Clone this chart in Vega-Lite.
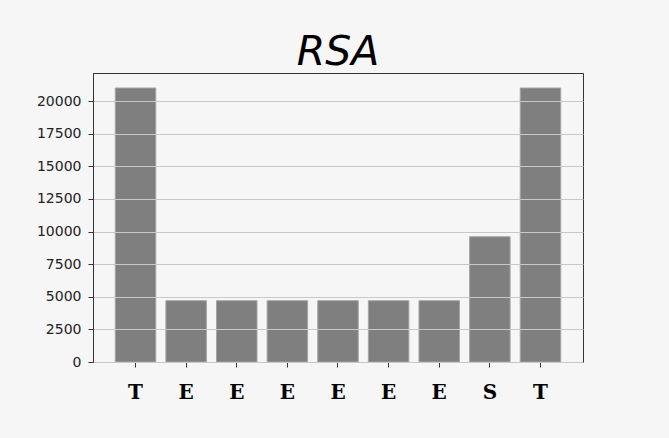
{
  "$schema": "https://vega.github.io/schema/vega-lite/v6.json",
  "autosize": "none",
  "width": 490,
  "height": 289,
  "padding": {"left": 93, "top": 73, "right": 86, "bottom": 76},
  "background": "#f6f6f6",
  "title": {
    "text": "RSA",
    "font": "DejaVu Sans",
    "fontStyle": "italic",
    "fontWeight": "normal",
    "fontSize": 41,
    "color": "#000000",
    "anchor": "middle",
    "offset": -1
  },
  "data": {
    "values": [
      {"slot": "T1", "value": 21000},
      {"slot": "E1", "value": 4700},
      {"slot": "E2", "value": 4700},
      {"slot": "E3", "value": 4700},
      {"slot": "E4", "value": 4700},
      {"slot": "E5", "value": 4700},
      {"slot": "E6", "value": 4700},
      {"slot": "S1", "value": 9600},
      {"slot": "T2", "value": 21000}
    ]
  },
  "mark": {"type": "bar", "color": "#7f7f7f", "stroke": "#a5a5a5", "strokeWidth": 1},
  "encoding": {
    "x": {
      "field": "slot",
      "type": "nominal",
      "sort": null,
      "title": null,
      "scale": {"paddingInner": 0.2, "paddingOuter": 0.44},
      "axis": {
        "labelExpr": "substring(datum.label, 0, 1)",
        "labelAngle": 0,
        "labelFont": "DejaVu Serif",
        "labelFontWeight": "bold",
        "labelFontSize": 20,
        "labelColor": "#000000",
        "labelPadding": 15,
        "tickSize": 5,
        "tickColor": "#333333",
        "domainColor": "#333333",
        "grid": false
      }
    },
    "y": {
      "field": "value",
      "type": "quantitative",
      "title": null,
      "scale": {"domain": [0, 22150], "nice": false},
      "axis": {
        "values": [0, 2500, 5000, 7500, 10000, 12500, 15000, 17500, 20000],
        "format": "d",
        "labelFont": "DejaVu Sans",
        "labelFontSize": 14,
        "labelColor": "#222222",
        "labelPadding": 7,
        "tickSize": 5,
        "tickColor": "#333333",
        "domainColor": "#333333",
        "grid": true,
        "gridColor": "#c8c8c8",
        "gridWidth": 1.2,
        "zindex": 1
      }
    }
  },
  "config": {
    "view": {"stroke": "#333333", "strokeWidth": 1}
  }
}
